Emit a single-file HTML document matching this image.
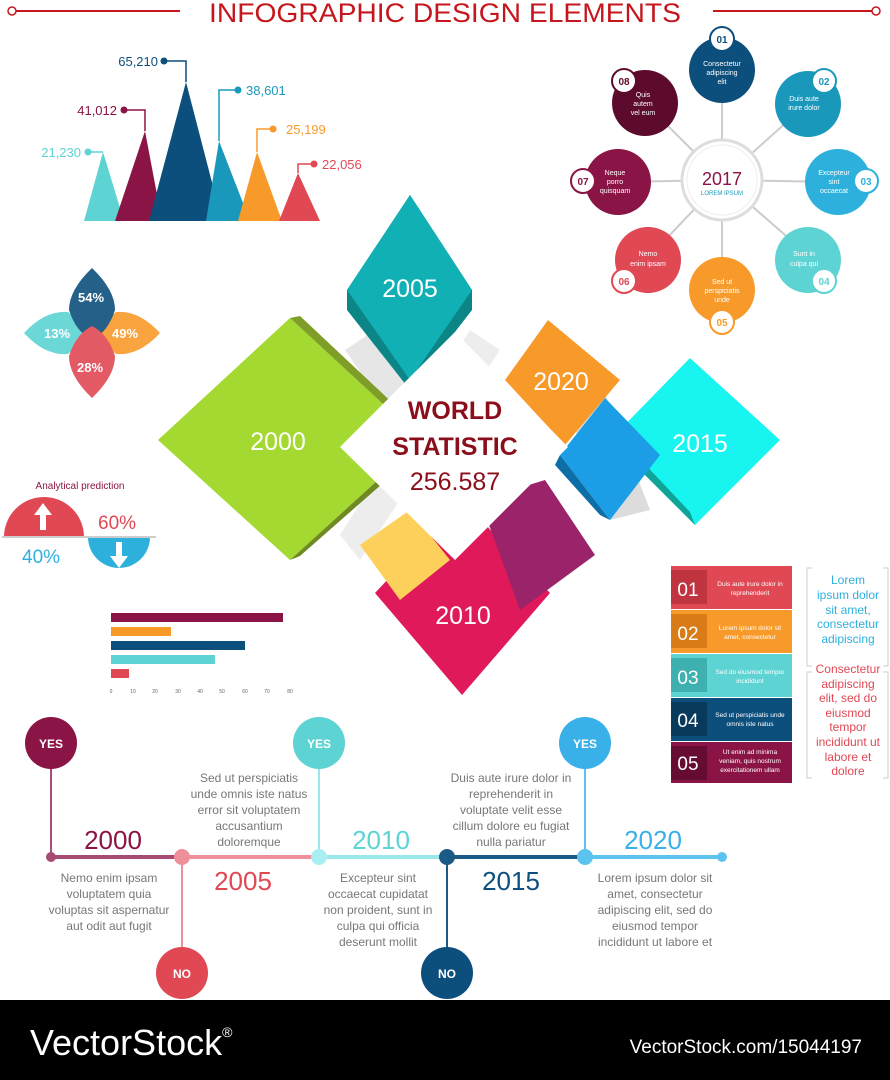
<!DOCTYPE html>
<html><head><meta charset="utf-8"><style>
html,body{margin:0;padding:0;background:#fff}
svg{display:block}
text{font-family:"Liberation Sans",sans-serif}
</style></head><body>
<svg width="890" height="1080" viewBox="0 0 890 1080" xmlns="http://www.w3.org/2000/svg">
<rect width="890" height="1080" fill="#fff"/>
<line x1="12" y1="11" x2="180" y2="11" stroke="#c4161c" stroke-width="2"/>
<circle cx="12" cy="11" r="4" fill="#fff" stroke="#c4161c" stroke-width="1.5"/>
<line x1="713" y1="11" x2="876" y2="11" stroke="#c4161c" stroke-width="2"/>
<circle cx="876" cy="11" r="4" fill="#fff" stroke="#c4161c" stroke-width="1.5"/>
<text x="445" y="22" text-anchor="middle" font-size="27" fill="#c4161c" textLength="472" lengthAdjust="spacingAndGlyphs">INFOGRAPHIC DESIGN ELEMENTS</text>

<polygon points="84,221 103,152 124,221" fill="#5dd3d3"/>
<polygon points="115,221 145,131 162,221" fill="#8b1446"/>
<polygon points="149,221 186,82 222,221" fill="#0d4f7c"/>
<polygon points="206,221 219,141 250,221" fill="#1a98bb"/>
<polygon points="238,221 257,152 282,221" fill="#f89a2a"/>
<polygon points="279,221 298,173 320,221" fill="#e04854"/>
<g stroke-width="1.5" fill="none">
<polyline points="164,61 186,61 186,82" stroke="#0d4f7c"/>
<polyline points="238,90 219,90 219,141" stroke="#1a98bb"/>
<polyline points="124,110 145,110 145,131" stroke="#8b1446"/>
<polyline points="273,129 257,129 257,152" stroke="#f89a2a"/>
<polyline points="88,152 103,152" stroke="#5dd3d3"/>
<polyline points="314,164 298,164 298,173" stroke="#e04854"/>
</g>
<circle cx="164" cy="61" r="3.5" fill="#0d4f7c"/><text x="158" y="66" text-anchor="end" font-size="13" fill="#0d4f7c">65,210</text>
<circle cx="238" cy="90" r="3.5" fill="#1a98bb"/><text x="246" y="95" font-size="13" fill="#1a98bb">38,601</text>
<circle cx="124" cy="110" r="3.5" fill="#8b1446"/><text x="117" y="115" text-anchor="end" font-size="13" fill="#8b1446">41,012</text>
<circle cx="273" cy="129" r="3.5" fill="#f89a2a"/><text x="286" y="134" font-size="13" fill="#f89a2a">25,199</text>
<circle cx="88" cy="152" r="3.5" fill="#5dd3d3"/><text x="81" y="157" text-anchor="end" font-size="13" fill="#5dd3d3">21,230</text>
<circle cx="314" cy="164" r="3.5" fill="#e04854"/><text x="322" y="169" font-size="13" fill="#e04854">22,056</text>

<g stroke="#ccc" stroke-width="2">
<line x1="722" y1="180" x2="722" y2="75"/><line x1="722" y1="180" x2="808" y2="103"/>
<line x1="722" y1="180" x2="838" y2="182"/><line x1="722" y1="180" x2="808" y2="255"/>
<line x1="722" y1="180" x2="722" y2="288"/><line x1="722" y1="180" x2="648" y2="258"/>
<line x1="722" y1="180" x2="620" y2="182"/><line x1="722" y1="180" x2="645" y2="103"/>
</g>
<circle cx="722" cy="180" r="40" fill="#fff" stroke="#ddd" stroke-width="3"/>
<circle cx="722" cy="180" r="35" fill="#fff" stroke="#eee" stroke-width="1"/>
<text x="722" y="185" text-anchor="middle" font-size="18" fill="#8b1446">2017</text>
<text x="722" y="195" text-anchor="middle" font-size="6" fill="#1a98bb">LOREM IPSUM</text>
<g font-size="7" fill="#fff" text-anchor="middle">
<circle cx="722" cy="70" r="33" fill="#0d4f7c"/><text x="722" y="66">Consectetur</text><text x="722" y="75">adipiscing</text><text x="722" y="84">elit</text>
<circle cx="808" cy="104" r="33" fill="#1a98bb"/><text x="804" y="101">Duis aute</text><text x="804" y="110">irure dolor</text>
<circle cx="838" cy="182" r="33" fill="#2eb0dd"/><text x="834" y="175">Excepteur</text><text x="834" y="184">sint</text><text x="834" y="193">occaecat</text>
<circle cx="808" cy="260" r="33" fill="#5dd3d3"/><text x="804" y="256">Sunt in</text><text x="804" y="266">culpa qui</text>
<circle cx="722" cy="290" r="33" fill="#f89a2a"/><text x="722" y="284">Sed ut</text><text x="722" y="293">perspiciatis</text><text x="722" y="302">unde</text>
<circle cx="648" cy="260" r="33" fill="#e04854"/><text x="648" y="256">Nemo</text><text x="648" y="266">enim ipsam</text>
<circle cx="618" cy="182" r="33" fill="#8b1446"/><text x="615" y="175">Neque</text><text x="615" y="184">porro</text><text x="615" y="193">quisquam</text>
<circle cx="645" cy="103" r="33" fill="#5c0b2c"/><text x="643" y="97">Quis</text><text x="643" y="106">autem</text><text x="643" y="115">vel eum</text>
</g>
<g font-size="10" text-anchor="middle" font-weight="bold">
<circle cx="722" cy="39" r="12" fill="#fff" stroke="#0d4f7c" stroke-width="2"/><text x="722" y="43" fill="#0d4f7c">01</text>
<circle cx="824" cy="81" r="12" fill="#fff" stroke="#1a98bb" stroke-width="2"/><text x="824" y="85" fill="#1a98bb">02</text>
<circle cx="866" cy="181" r="12" fill="#fff" stroke="#2eb0dd" stroke-width="2"/><text x="866" y="185" fill="#2eb0dd">03</text>
<circle cx="824" cy="281" r="12" fill="#fff" stroke="#5dd3d3" stroke-width="2"/><text x="824" y="285" fill="#5dd3d3">04</text>
<circle cx="722" cy="322" r="12" fill="#fff" stroke="#f89a2a" stroke-width="2"/><text x="722" y="326" fill="#f89a2a">05</text>
<circle cx="624" cy="281" r="12" fill="#fff" stroke="#e04854" stroke-width="2"/><text x="624" y="285" fill="#e04854">06</text>
<circle cx="583" cy="181" r="12" fill="#fff" stroke="#8b1446" stroke-width="2"/><text x="583" y="185" fill="#8b1446">07</text>
<circle cx="624" cy="81" r="12" fill="#fff" stroke="#5c0b2c" stroke-width="2"/><text x="624" y="85" fill="#5c0b2c">08</text>
</g>

<g opacity="0.9">
<path d="M24,333 Q45,310 68,312 Q78,320 82,333 Q78,346 68,354 Q45,356 24,333Z" fill="#5dd3d3"/>
<path d="M160,333 Q139,310 116,312 Q106,320 102,333 Q106,346 116,354 Q139,356 160,333Z" fill="#f89a2a"/>
<path d="M92,268 Q115,290 115,310 Q108,332 92,340 Q76,332 69,310 Q69,290 92,268Z" fill="#0d4f7c"/>
<path d="M92,398 Q115,376 115,356 Q108,334 92,326 Q76,334 69,356 Q69,376 92,398Z" fill="#e04854"/>
</g>
<g font-size="13" font-weight="bold" fill="#fff" text-anchor="middle">
<text x="91" y="302">54%</text><text x="57" y="338">13%</text><text x="125" y="338">49%</text><text x="90" y="372">28%</text>
</g>

<polygon points="345,350 375,330 520,540 490,560" fill="#e6e6e6"/>
<polygon points="470,330 500,350 360,560 340,535" fill="#ededed"/>
<polygon points="560,390 600,380 650,510 610,520" fill="#dcdcdc"/>
<polygon points="158,440 290,318 422,440 290,560" fill="#a3d930"/>
<polygon points="290,318 300,316 432,440 422,440" fill="#7e9e27"/>
<polygon points="290,560 300,556 432,440 422,440" fill="#6f8a22"/>
<polygon points="347,290 410,195 472,290 472,310 410,390 347,310" fill="#0c8587"/>
<polygon points="347,290 410,195 472,290 410,380" fill="#10b0b4"/>
<polygon points="610,440 690,358 780,440 695,525" fill="#18f5f0"/>
<polygon points="610,440 695,525 690,512 622,440" fill="#0fa497"/>
<polygon points="375,593 462,500 550,593 462,695" fill="#e0195a"/>
<polygon points="480,500 545,480 595,555 520,610" fill="#9a2369"/>
<polygon points="360,545 410,510 450,560 400,600" fill="#fcd05a"/>
<polygon points="505,380 548,320 620,380 565,445" fill="#f89a2a"/>
<polygon points="560,455 605,398 660,455 610,520" fill="#1b9ee5"/>
<polygon points="560,455 610,520 600,515 555,465" fill="#0e6fa8"/>
<polygon points="340,447 455,332 568,447 455,560" fill="#fff"/>
<g fill="#fff" font-size="25" text-anchor="middle">
<text x="410" y="297">2005</text><text x="278" y="450">2000</text><text x="700" y="452">2015</text><text x="463" y="624">2010</text><text x="561" y="390">2020</text>
</g>
<text x="455" y="419" text-anchor="middle" font-size="25" font-weight="bold" fill="#8b0f1a">WORLD</text>
<text x="455" y="455" text-anchor="middle" font-size="25" font-weight="bold" fill="#8b0f1a">STATISTIC</text>
<text x="455" y="490" text-anchor="middle" font-size="25" fill="#8b0f1a">256.587</text>

<text x="80" y="489" text-anchor="middle" font-size="10" fill="#8b1446">Analytical prediction</text>
<path d="M4,537 A40,40 0 0 1 84,537Z" fill="#e04854"/>
<path d="M88,537 A30,30 0 0 0 150,537Z" fill="#2eb0dd"/>
<line x1="2" y1="537" x2="156" y2="537" stroke="#ccc" stroke-width="2"/>
<polygon points="43,503 34,515 40,515 40,530 46,530 46,515 52,515" fill="#fff"/>
<polygon points="119,568 110,556 116,556 116,542 122,542 122,556 128,556" fill="#fff"/>
<text x="98" y="529" font-size="19" fill="#e04854">60%</text>
<text x="22" y="563" font-size="19" fill="#2eb0dd">40%</text>

<rect x="111" y="613" width="172" height="9" fill="#8b1446"/>
<rect x="111" y="627" width="60" height="9" fill="#f89a2a"/>
<rect x="111" y="641" width="134" height="9" fill="#0d4f7c"/>
<rect x="111" y="655" width="104" height="9" fill="#5dd3d3"/>
<rect x="111" y="669" width="18" height="9" fill="#e04854"/>
<g font-size="5" fill="#666" text-anchor="middle">
<text x="111" y="693">0</text><text x="133" y="693">10</text><text x="155" y="693">20</text><text x="178" y="693">30</text><text x="200" y="693">40</text><text x="222" y="693">50</text><text x="245" y="693">60</text><text x="267" y="693">70</text><text x="290" y="693">80</text>
</g>

<g>
<rect x="671" y="566" width="121" height="43" fill="#e04854"/><rect x="671" y="570" width="36" height="34" fill="#c03440"/>
<rect x="671" y="610" width="121" height="43" fill="#f89a2a"/><rect x="671" y="614" width="36" height="34" fill="#d97c17"/>
<rect x="671" y="654" width="121" height="43" fill="#5dd3d3"/><rect x="671" y="658" width="36" height="34" fill="#3fb0b0"/>
<rect x="671" y="698" width="121" height="43" fill="#0d4f7c"/><rect x="671" y="702" width="36" height="34" fill="#083a5c"/>
<rect x="671" y="742" width="121" height="41" fill="#8b1446"/><rect x="671" y="746" width="36" height="34" fill="#660c32"/>
</g>
<g font-size="19" fill="#fff" text-anchor="middle">
<text x="688" y="596">01</text><text x="688" y="640">02</text><text x="688" y="684">03</text><text x="688" y="727">04</text><text x="688" y="770">05</text>
</g>
<g font-size="6.5" fill="#fff" text-anchor="middle">
<text x="750" y="586">Duis aute irure dolor in</text><text x="750" y="595">reprehenderit</text>
<text x="750" y="630">Lorem ipsum dolor sit</text><text x="750" y="639">amet, consectetur</text>
<text x="750" y="674">Sed do eiusmod tempor</text><text x="750" y="683">incididunt</text>
<text x="750" y="717">Sed ut perspiciatis unde</text><text x="750" y="726">omnis iste natus</text>
<text x="750" y="754">Ut enim ad minima</text><text x="750" y="763">veniam, quis nostrum</text><text x="750" y="772">exercitationem ullam</text>
</g>
<path d="M812,568 h-5 v98 h5 M883,568 h5 v98 h-5" stroke="#ccc" fill="none"/>
<path d="M812,672 h-5 v106 h5 M883,672 h5 v106 h-5" stroke="#ccc" fill="none"/>
<g font-size="12" fill="#2eb0dd" text-anchor="middle">
<text x="848" y="584">Lorem</text><text x="848" y="599">ipsum dolor</text><text x="848" y="614">sit amet,</text><text x="848" y="628">consectetur</text><text x="848" y="643">adipiscing</text>
</g>
<g font-size="12" fill="#e04854" text-anchor="middle">
<text x="848" y="673">Consectetur</text><text x="848" y="688">adipiscing</text><text x="848" y="702">elit, sed do</text><text x="848" y="717">eiusmod</text><text x="848" y="731">tempor</text><text x="848" y="746">incididunt ut</text><text x="848" y="761">labore et</text><text x="848" y="775">dolore</text>
</g>

<line x1="51" y1="857" x2="182" y2="857" stroke="#a64b73" stroke-width="4"/>
<line x1="182" y1="857" x2="319" y2="857" stroke="#ef8f9a" stroke-width="4"/>
<line x1="319" y1="857" x2="447" y2="857" stroke="#9ae8ec" stroke-width="4"/>
<line x1="447" y1="857" x2="585" y2="857" stroke="#1b5a87" stroke-width="4"/>
<line x1="585" y1="857" x2="722" y2="857" stroke="#5bc3ee" stroke-width="4"/>
<line x1="51" y1="743" x2="51" y2="857" stroke="#a64b73" stroke-width="2"/>
<line x1="182" y1="857" x2="182" y2="973" stroke="#ef8f9a" stroke-width="2"/>
<line x1="319" y1="743" x2="319" y2="857" stroke="#9ae8ec" stroke-width="2"/>
<line x1="447" y1="857" x2="447" y2="973" stroke="#1b5a87" stroke-width="2"/>
<line x1="585" y1="743" x2="585" y2="857" stroke="#5bc3ee" stroke-width="2"/>
<circle cx="51" cy="857" r="5" fill="#a64b73"/><circle cx="182" cy="857" r="8" fill="#ef8f9a"/>
<circle cx="319" cy="857" r="8" fill="#a8eef2"/><circle cx="447" cy="857" r="8" fill="#1b5a87"/>
<circle cx="585" cy="857" r="8" fill="#5bc3ee"/><circle cx="722" cy="857" r="5" fill="#5bc3ee"/>
<circle cx="51" cy="743" r="26" fill="#8b1446"/><circle cx="319" cy="743" r="26" fill="#5dd3d3"/><circle cx="585" cy="743" r="26" fill="#3ab0e8"/>
<circle cx="182" cy="973" r="26" fill="#e04854"/><circle cx="447" cy="973" r="26" fill="#0d4f7c"/>
<g font-size="12" font-weight="bold" fill="#fff" text-anchor="middle">
<text x="51" y="748">YES</text><text x="319" y="748">YES</text><text x="585" y="748">YES</text><text x="182" y="978">NO</text><text x="447" y="978">NO</text>
</g>
<g font-size="26" text-anchor="middle">
<text x="113" y="849" fill="#8b1446">2000</text><text x="243" y="890" fill="#e04854">2005</text>
<text x="381" y="849" fill="#5dd3d3">2010</text><text x="511" y="890" fill="#0d4f7c">2015</text>
<text x="653" y="849" fill="#3ab0e8">2020</text>
</g>
<g font-size="12" fill="#777" text-anchor="middle">
<text x="249" y="782">Sed ut perspiciatis</text><text x="249" y="798">unde omnis iste natus</text><text x="249" y="814">error sit voluptatem</text><text x="249" y="830">accusantium</text><text x="249" y="846">doloremque</text>
<text x="511" y="782">Duis aute irure dolor in</text><text x="511" y="798">reprehenderit in</text><text x="511" y="814">voluptate velit esse</text><text x="511" y="830">cillum dolore eu fugiat</text><text x="511" y="846">nulla pariatur</text>
<text x="109" y="882">Nemo enim ipsam</text><text x="109" y="898">voluptatem quia</text><text x="109" y="914">voluptas sit aspernatur</text><text x="109" y="930">aut odit aut fugit</text>
<text x="378" y="882">Excepteur sint</text><text x="378" y="898">occaecat cupidatat</text><text x="378" y="914">non proident, sunt in</text><text x="378" y="930">culpa qui officia</text><text x="378" y="946">deserunt mollit</text>
<text x="655" y="882">Lorem ipsum dolor sit</text><text x="655" y="898">amet, consectetur</text><text x="655" y="914">adipiscing elit, sed do</text><text x="655" y="930">eiusmod tempor</text><text x="655" y="946">incididunt ut labore et</text>
</g>

<rect x="0" y="1000" width="890" height="80" fill="#000"/>
<text x="30" y="1055" font-size="36" fill="#fff">VectorStock<tspan font-size="14" dy="-18">®</tspan></text>
<text x="862" y="1053" text-anchor="end" font-size="19" fill="#fff">VectorStock.com/15044197</text>
</svg>
</body></html>
